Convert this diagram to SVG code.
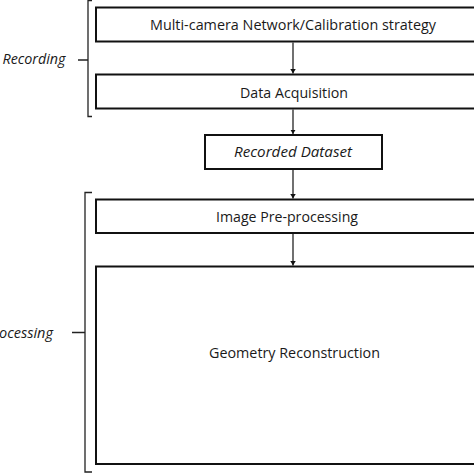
<svg xmlns="http://www.w3.org/2000/svg" width="474" height="474" viewBox="0 0 474 474">
<style>
.box{fill:#fff;stroke:#111;stroke-width:2}
.br{fill:none;stroke:#222;stroke-width:1.3}
.t{font-family:"Open Sans","Liberation Sans",sans-serif;font-size:14.5px;fill:#1a1a1a;text-anchor:middle}
.i{font-style:italic}
.c{stroke:#111;stroke-width:1.2;fill:none}
</style>
<defs>
<marker id="ah" viewBox="0 0 10 10" refX="10" refY="5" markerWidth="4.5" markerHeight="5.5" markerUnits="userSpaceOnUse" orient="auto" preserveAspectRatio="none">
<path d="M0,0 L10,5 L0,10 z" fill="#111"/>
</marker>
</defs>
<rect width="474" height="474" fill="#fff"/>
<g id="recording">
<path class="br" d="M92,0.7 L88,0.7 L88,116.5 L92,116.5 M78,60 L88,60"/>
<text class="t i" x="34" y="64" textLength="63" lengthAdjust="spacingAndGlyphs">Recording</text>
</g>
<g id="processing">
<path class="br" d="M92,192.5 L85,192.5 L85,472 L92,472 M72,332.5 L85,332.5"/>
<text class="t i" x="53" y="338" style="text-anchor:end">Processing</text>
</g>
<g id="n1">
<rect class="box" x="96" y="7.5" width="390" height="34"/>
<text class="t" x="293" y="30" textLength="286" lengthAdjust="spacingAndGlyphs">Multi-camera Network/Calibration strategy</text>
</g>
<g id="n2">
<rect class="box" x="96" y="74.5" width="390" height="34"/>
<text class="t" x="294" y="97.5" textLength="108" lengthAdjust="spacingAndGlyphs">Data Acquisition</text>
</g>
<g id="n3">
<rect class="box" x="205" y="135" width="177" height="34"/>
<text class="t i" x="293" y="157" textLength="118" lengthAdjust="spacingAndGlyphs">Recorded Dataset</text>
</g>
<g id="n4">
<rect class="box" x="96" y="199.5" width="390" height="33.5"/>
<text class="t" x="287" y="222" textLength="142" lengthAdjust="spacingAndGlyphs">Image Pre-processing</text>
</g>
<g id="n5">
<rect class="box" x="96" y="266.5" width="390" height="197.5"/>
<text class="t" x="294.5" y="358" textLength="171" lengthAdjust="spacingAndGlyphs">Geometry Reconstruction</text>
</g>
<g id="connectors">
<line class="c" x1="293" y1="42.5" x2="293" y2="73.5" marker-end="url(#ah)"/>
<line class="c" x1="293" y1="109.5" x2="293" y2="134" marker-end="url(#ah)"/>
<line class="c" x1="293" y1="170" x2="293" y2="198.5" marker-end="url(#ah)"/>
<line class="c" x1="293" y1="234" x2="293" y2="265.5" marker-end="url(#ah)"/>
</g>
</svg>
